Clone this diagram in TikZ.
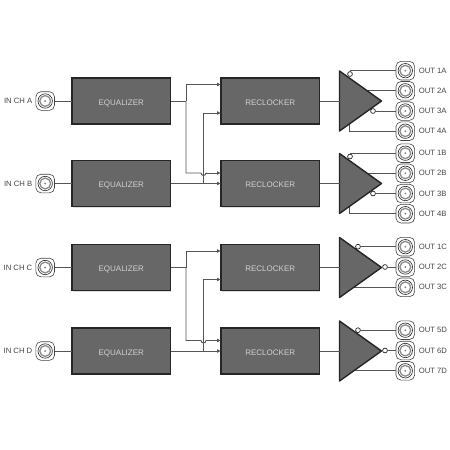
\documentclass[tikz,border=0pt]{standalone}
\usepackage{xcolor}
\usepackage{fontspec}
\setmainfont{Liberation Sans}
\usetikzlibrary{arrows.meta,positioning,calc,shadows,shapes.geometric}
\definecolor{blockfill}{RGB}{102,103,102}
\definecolor{blockline}{RGB}{38,38,38}
\definecolor{wirecol}{RGB}{85,85,85}
\definecolor{labelcol}{RGB}{70,70,70}

\begin{document}
\begin{tikzpicture}[
  x=1pt, y=-1pt,
  block/.style={draw=blockline, line width=1.4pt, fill=blockfill, outer sep=0pt,
                minimum width=98.5pt, minimum height=46pt, inner sep=0pt,
                text=black!18, font=\fontsize{8}{9}\selectfont, text height=8.2pt, text depth=0pt,
                drop shadow={shadow xshift=0.6pt, shadow yshift=-1.4pt, opacity=0.25}},
  tri/.style={draw=blockline, line width=1.4pt, fill=blockfill, isosceles triangle,
              isosceles triangle stretches, minimum height=42pt, minimum width=60pt,
              inner sep=0pt, outer sep=0pt, line join=round},
  bnc/.style={draw=labelcol, line width=0.6pt, rounded corners=5pt, fill=white,
              minimum size=18.6pt, inner sep=0pt, outer sep=0pt,
              path picture={
                \draw[blockline, line width=0.6pt] (path picture bounding box.center) circle[radius=7.2pt];
                \draw[black!45, line width=1.3pt] (path picture bounding box.center) circle[radius=5.4pt];
                \fill[black!50] (path picture bounding box.center) circle[radius=1pt];
              }},
  bubble/.style={circle, draw=blockline, line width=0.7pt, fill=white, minimum size=4.8pt,
                 inner sep=0pt, outer sep=0pt},
  lbl/.style={text=labelcol, inner sep=0pt, font=\fontsize{7.7}{9}\selectfont},
  wire/.style={draw=wirecol, line width=0.9pt},
  arrow/.style={wire, -{Latex[length=4pt,width=4pt]}}
]
  \useasboundingbox (0,0) rectangle (450,450);

  % blocks
  \node[block, anchor=north west] (eqA) at (72,78) {EQUALIZER};
  \node[block, below=36.5pt of eqA] (eqB) {EQUALIZER};
  \node[block, below=38pt of eqB] (eqC) {EQUALIZER};
  \node[block, below=37.5pt of eqC] (eqD) {EQUALIZER};
  \foreach \c in {A,B,C,D} {
    \node[block, right=50.5pt of eq\c] (rec\c) {RECLOCKER};
    \node[bnc, left=17.5pt of eq\c] (in\c) {};
    \node[lbl, left=3.4pt of in\c] (lin\c) {IN CH \c};
    \draw[wire] (in\c) -- (eq\c);
  }

  % crossovers between equalizers and reclockers
  \foreach \a/\b in {A/B,C/D} {
    \coordinate (j\a) at ($(eq\a.east)+(15.5,0)$);
    \coordinate (k\b) at ($(eq\b.east)+(33,0)$);
    \coordinate (t\a) at ($(rec\a.north west)+(0,6.5)$);
    \coordinate (u\a) at ($(rec\a.north west)+(0,35)$);
    \coordinate (t\b) at ($(rec\b.north west)+(0,12.5)$);
    \coordinate (h\b) at (t\b -| k\b);
    \draw[wire] (eq\a.east) -- (j\a);
    \draw[arrow] (j\a) |- (t\a);
    \draw[wire] (j\a) |- ($(h\b)+(-2.5,0)$) arc[start angle=180, end angle=0, x radius=2.5pt, y radius=-2.5pt]
      -- ($(h\b)+(3,0)$);
    \draw[arrow] ($(h\b)+(2.5,0)$) -- (t\b);
    \draw[arrow] (eq\b.east) -- (rec\b.west);
    \draw[arrow] (k\b) |- (u\a);
  }

  % four output amplifiers
  \foreach \c/\y in {A/101,B/183.5} {
    \foreach \n/\d in {1/-30.3,2/-10.2,3/10,4/30.2} {
      \node[bnc] (o\n\c) at (405.3,{\y+\d}) {};
      \node[lbl, right=4pt of o\n\c] (l\n\c) {OUT \n\c};
    }
    \coordinate (s2\c) at (362,{\y-10.2});
    \coordinate (s4\c) at (349.5,{\y+20});
    \draw[wire] (s2\c) -- (o2\c);
    \draw[wire] (s4\c) |- (o4\c);
    \node[tri, right=20pt of rec\c] (tri\c) {};
    \draw[wire] (rec\c) -- (tri\c.west);
    \node[bubble] (b1\c) at (350,{\y-27}) {};
    \node[bubble] (b3\c) at (373,{\y+10}) {};
    \draw[wire] (b1\c.north) |- (o1\c);
    \draw[wire] (b3\c) -- (o3\c);
  }

  % three output amplifiers
  \foreach \c/\p/\q/\r/\y in {C/1/2/3/267.5,D/5/6/7/351} {
    \node[bnc] (o\p\c) at (405.3,{\y-20.8}) {};
    \node[bnc] (o\q\c) at (405.3,{\y-0.5}) {};
    \node[bnc] (o\r\c) at (405.3,{\y+19.8}) {};
    \foreach \n in {\p,\q,\r} {
      \node[lbl, right=4pt of o\n\c] (l\n\c) {OUT \n\c};
    }
    \coordinate (s\r\c) at (352,{\y+19.8});
    \draw[wire] (s\r\c) -- (o\r\c);
    \node[tri, right=20pt of rec\c] (tri\c) {};
    \draw[wire] (rec\c) -- (tri\c.west);
    \node[bubble] (b\p\c) at (358,{\y-20.8}) {};
    \node[bubble] (b\q\c) at (385,{\y-0.5}) {};
    \draw[wire] (b\p\c) -- (o\p\c);
    \draw[wire] (b\q\c) -- (o\q\c);
  }
\end{tikzpicture}
\end{document}
